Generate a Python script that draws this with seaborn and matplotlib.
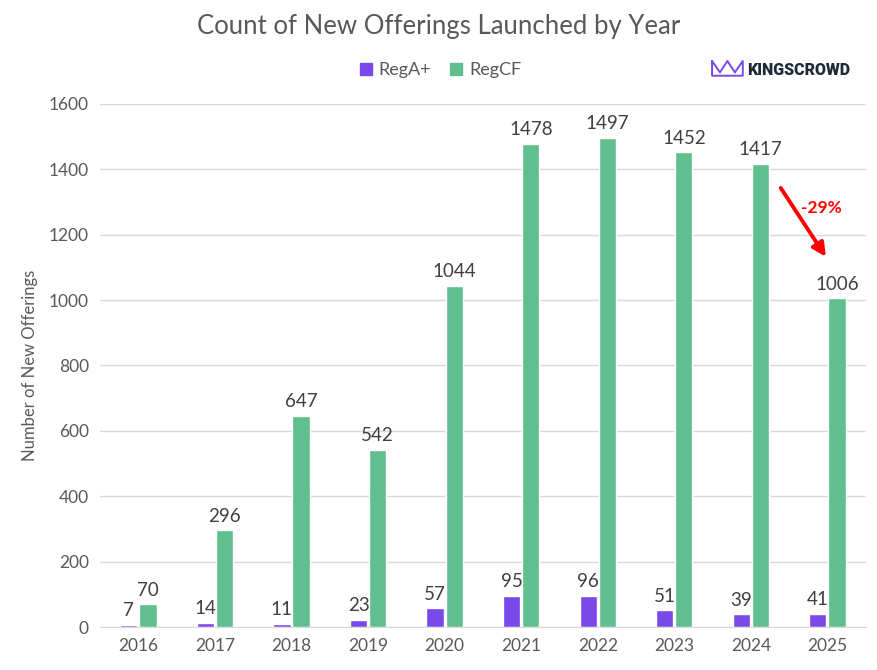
import matplotlib.pyplot as plt
import seaborn as sns
import pandas as pd
from matplotlib.lines import Line2D

years = ['2016', '2017', '2018', '2019', '2020', '2021', '2022', '2023', '2024', '2025']
rega = [7, 14, 11, 23, 57, 95, 96, 51, 39, 41]
regcf = [70, 296, 647, 542, 1044, 1478, 1497, 1452, 1417, 1006]
series = ['RegA+', 'RegCF']
colors = ['#7B48EA', '#61BF8F']

df = pd.DataFrame({
    'year': years * 2,
    'count': rega + regcf,
    'type': [series[0]] * len(years) + [series[1]] * len(years),
})

sns.set_style('white')
plt.rcParams['font.family'] = ['Lato', 'DejaVu Sans']
txt = '#595959'

fig = plt.figure(figsize=(8.78, 6.7), dpi=100)
ax = fig.add_axes([0.114, 0.064, 0.872, 0.781])

sns.barplot(data=df, x='year', y='count', hue='type', palette=colors,
            width=0.5, gap=0.1, ax=ax, legend=False, saturation=1)

for cont in ax.containers:
    ax.bar_label(cont, padding=4, fontsize=13.5, color='#404040')

ax.set_ylim(0, 1600)
ax.set_yticks(range(0, 1601, 200))
ax.grid(axis='y', color='#d9d9d9', lw=1)
ax.set_axisbelow(True)
for s in ['top', 'right', 'left']:
    ax.spines[s].set_visible(False)
ax.spines['bottom'].set_color('#d9d9d9')
ax.tick_params(axis='both', length=0, labelsize=12.5, colors=txt, pad=8)
ax.set_xlabel('')
ax.set_ylabel('Number of New Offerings', fontsize=12, color=txt, labelpad=8)

fig.text(0.5, 0.96, 'Count of New Offerings Launched by Year', ha='center', va='center',
         fontsize=18.5, color=txt)

# legend
handles = [Line2D([], [], marker='s', ls='', color=c, markersize=9) for c in colors]
fig.legend(handles, series, loc='center', bbox_to_anchor=(0.5, 0.895), ncol=2, frameon=False,
           fontsize=13, labelcolor=txt, handletextpad=0.2, handlelength=1.0, columnspacing=0.9)

# logo
fig.text(0.851, 0.896, 'KINGSCROWD', ha='left', va='center', fontsize=11.5,
         fontweight='heavy', color='#1f2937', family='Roboto', fontstretch='condensed')
cx = [0.811, 0.811, 0.846, 0.846, 0.837, 0.8285, 0.820, 0.811]
cy = [0.909, 0.887, 0.887, 0.909, 0.892, 0.909, 0.892, 0.909]
fig.add_artist(Line2D(cx, cy, color='#7B48EA', lw=1.4, transform=fig.transFigure))

# annotation
ax.annotate('', xy=(9.0, 1125), xytext=(8.37, 1350),
            arrowprops=dict(arrowstyle='-|>', color='red', lw=2.8, mutation_scale=20))
ax.text(8.92, 1283, '-29%', color='red', fontsize=12.5, fontweight='bold', ha='center', va='center')

fig.savefig('out.png', dpi=100)
